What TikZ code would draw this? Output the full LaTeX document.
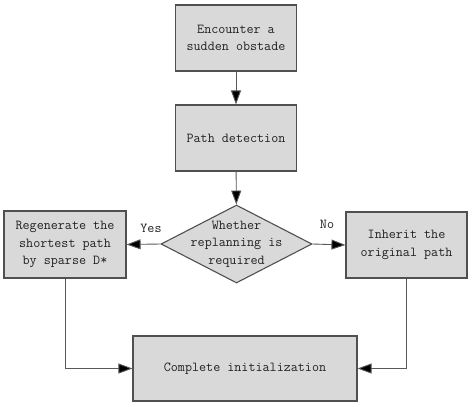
\documentclass[tikz,border=0pt]{standalone}
\usepackage{fontspec}
\usetikzlibrary{arrows.meta,shapes.geometric}
\definecolor{boxfill}{HTML}{D9D9D9}
\definecolor{boxline}{HTML}{505050}
\definecolor{txt}{HTML}{222222}
\tikzset{
  procbox/.style={rectangle, draw=boxline, fill=boxfill, line width=1.1pt, inner sep=0pt, align=center, text=txt, font=\ttfamily\fontsize{13.7}{17.5}\selectfont},
  decbox/.style={diamond, draw=boxline, fill=boxfill, line width=1.1pt, inner sep=0pt, minimum width=151pt, minimum height=78pt},
  dectext/.style={align=center, text=txt, font=\ttfamily\fontsize{13.7}{17.5}\selectfont},
  conn/.style={draw=black!65, line width=0.9pt, -{Triangle[length=14pt,width=10pt,fill=black]}},
  lbl/.style={text=txt, font=\ttfamily\fontsize{13.7}{14}\selectfont}
}
\begin{document}
\begin{tikzpicture}[x=1pt,y=-1pt]
\useasboundingbox[fill=white] (0,0) rectangle (474,407);
\node[procbox, minimum width=121pt, minimum height=66pt] (enc) at (236,38) {Encounter a\\sudden obstade};
\node[procbox, minimum width=121pt, minimum height=66pt] (det) at (236,138) {Path detection};
\node[decbox] (dec) at (236.5,244) {};
\node[dectext] (dect) at (dec.center) {Whether\\replanning is\\required};
\node[procbox, minimum width=122pt, minimum height=67pt] (regen) at (65,244.5) {Regenerate the\\shortest path\\by sparse D*};
\node[procbox, minimum width=121pt, minimum height=66pt] (inh) at (406.5,245) {Inherit the\\original path};
\node[procbox, minimum width=224pt, minimum height=65pt] (init) at (245,368.5) {Complete initialization};
\draw[conn] (enc) -- (det);
\draw[conn] (det) -- (dec);
\draw[conn] (dec.west) -- (regen.east);
\draw[conn] (dec.east) -- (inh.west);
\draw[conn] (regen.south) |- (init.west);
\draw[conn] (inh.south) |- (init.east);
\node[lbl] (yes) at (151,228) {Yes};
\node[lbl] (no) at (327,224) {No};
\end{tikzpicture}
\end{document}
